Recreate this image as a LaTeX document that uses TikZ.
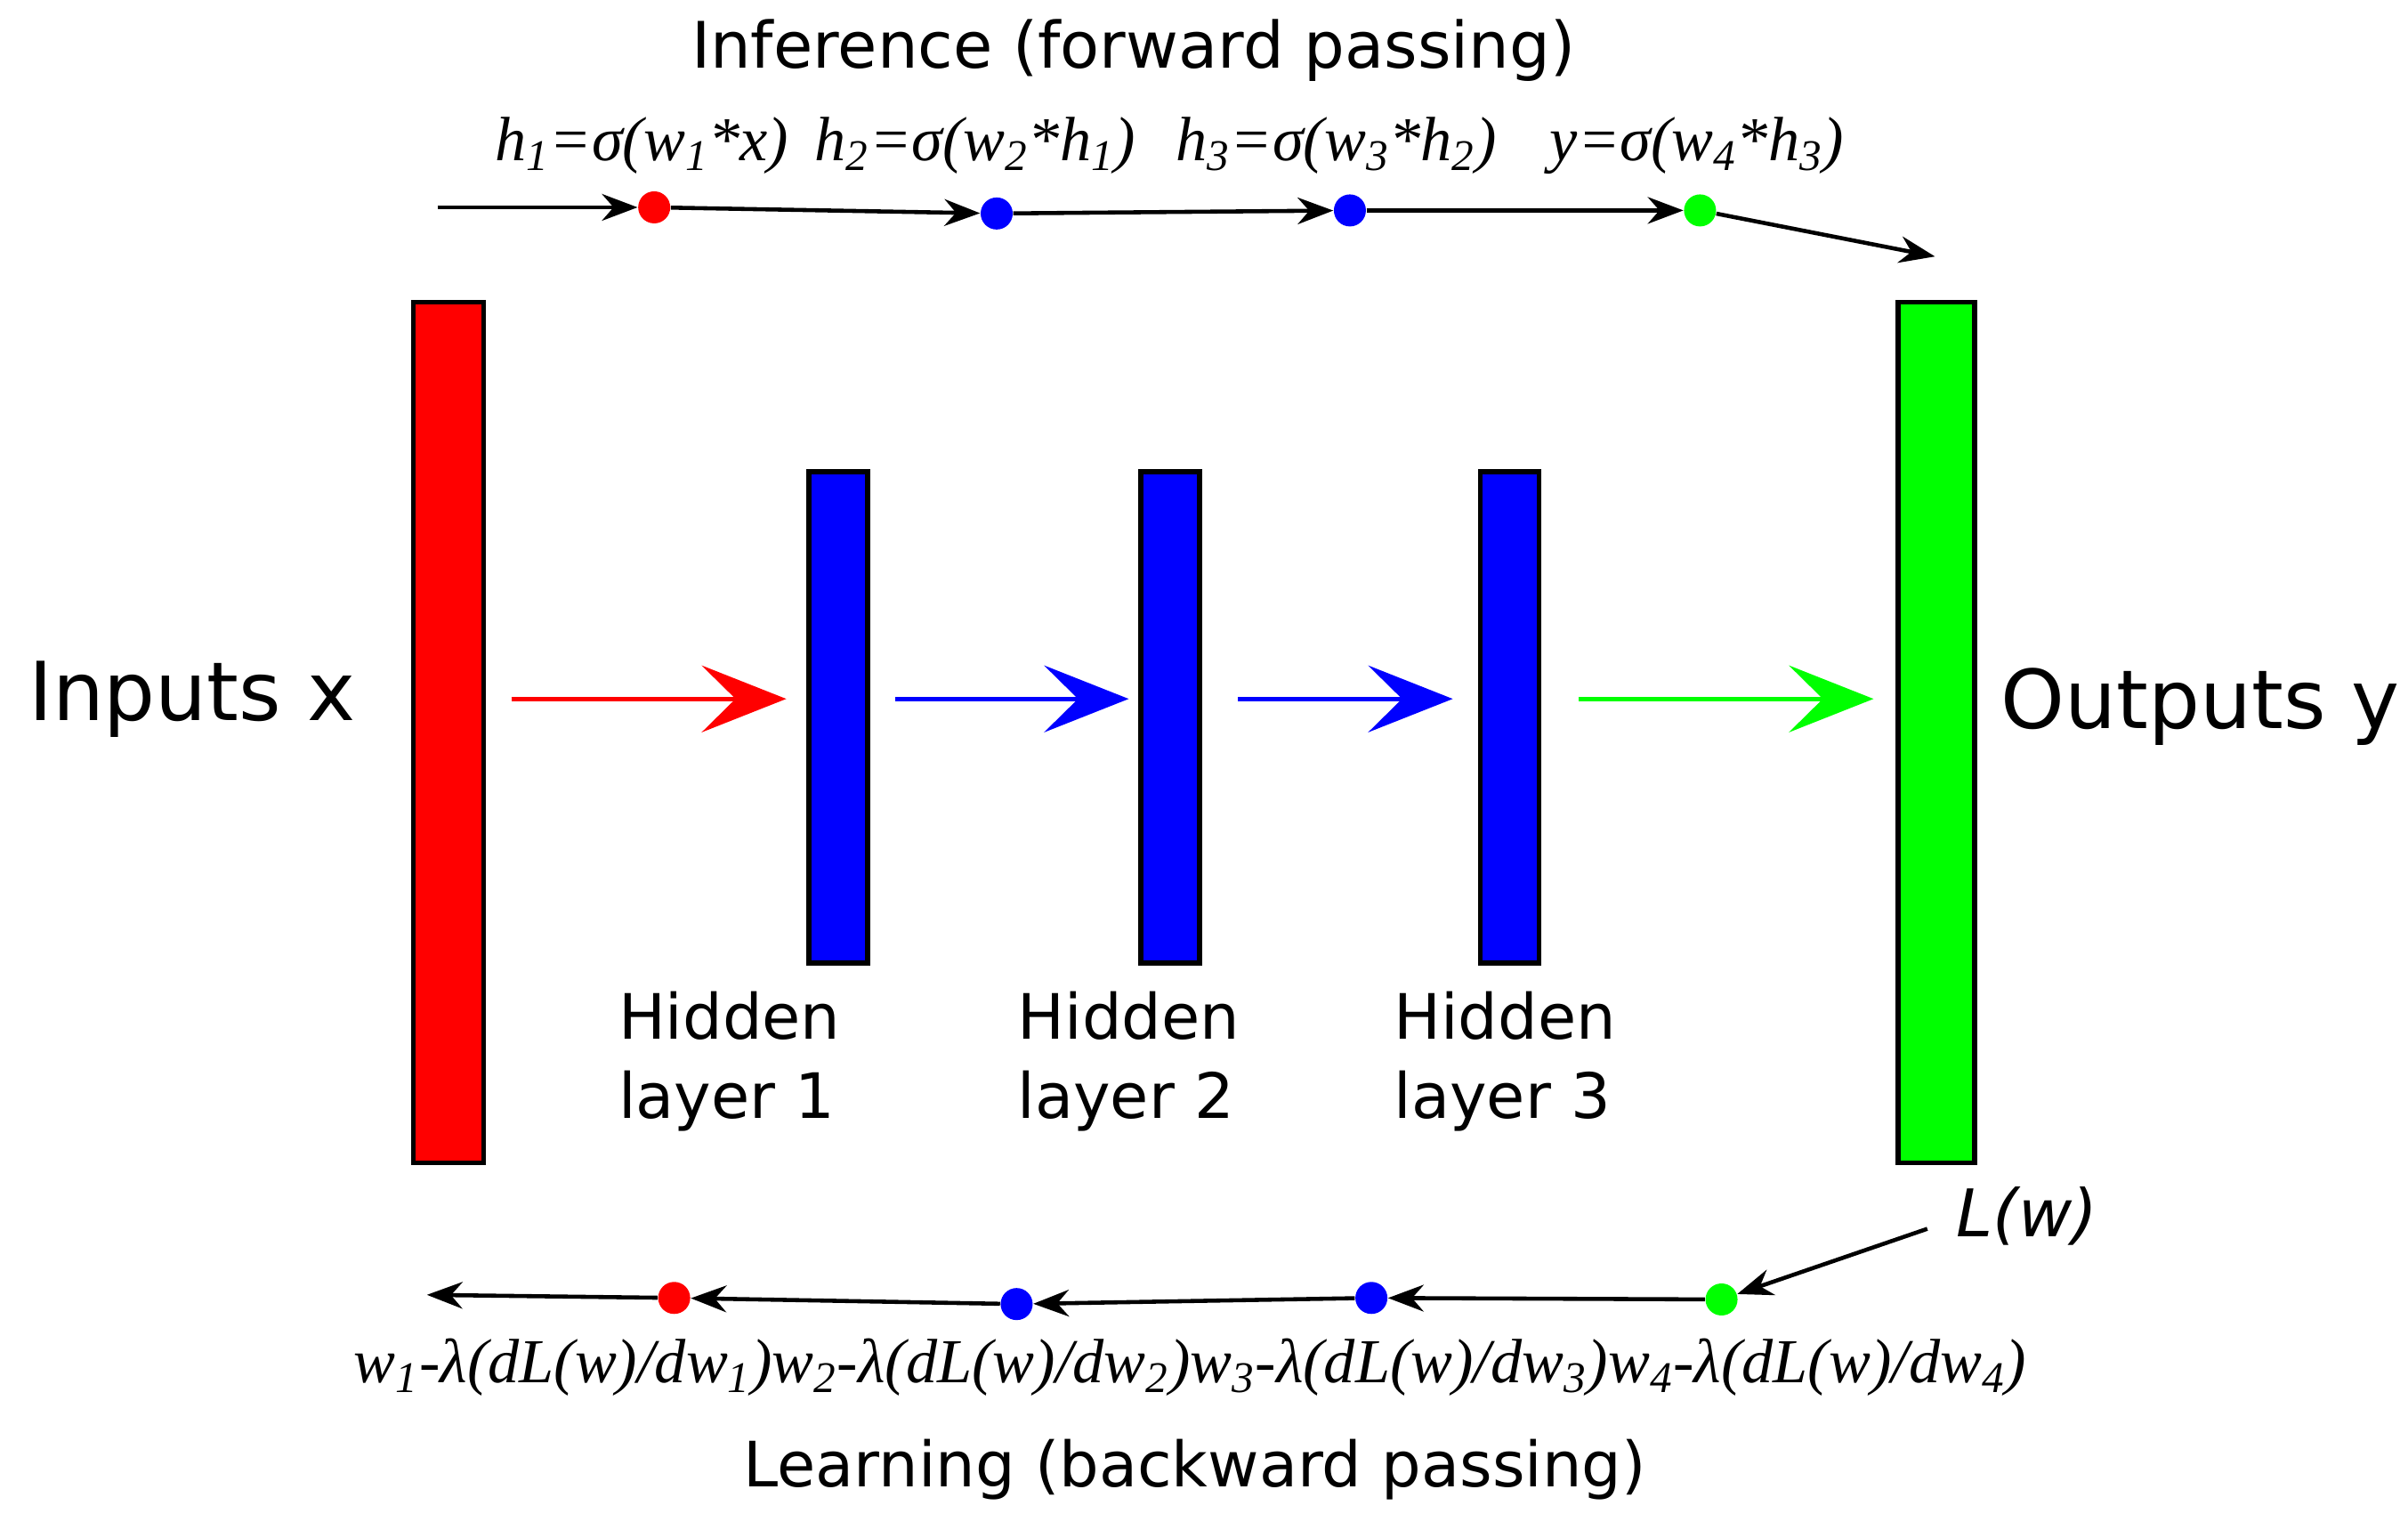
\documentclass[tikz,border=0pt]{standalone}
\usepackage{fontspec}
\setmainfont{DejaVu Sans}
\newfontfamily\formfont{Liberation Serif}
\usetikzlibrary{arrows.meta}
\begin{document}
\begin{tikzpicture}[x=0.01726cm,y=-0.01726cm,
	bar/.style={draw=black,line width=1.6pt,inner sep=0pt},
	dot/.style={circle,inner sep=0pt,minimum size=0.36cm},
	flow/.style={-{Stealth[length=0.4cm,width=0.3cm]},line width=1.3pt},
	big/.style={-{Stealth[length=0.95cm,width=0.75cm,inset=0.38cm]},line width=1.5pt},
	form/.style={font=\formfont\itshape\fontsize{20}{22}\selectfont}]
	\useasboundingbox (0,0) rectangle (1568,1001);

	% layers
	\node[bar,fill=red,minimum width=0.79cm,minimum height=9.67cm] (in) at (292,477) {};
	\node[bar,fill=green,minimum width=0.86cm,minimum height=9.67cm] (out) at (1261,477) {};
	\foreach \n/\xx in {1/546,2/762,3/983}
		\node[bar,fill=blue,minimum width=0.66cm,minimum height=5.52cm] (hl\n) at (\xx,467) {};

	\node[font=\fontsize{26}{30}\selectfont] (inx) at (125,455) {Inputs x};
	\node[font=\fontsize{26}{30}\selectfont] (outy) at (1433,460) {Outputs y};
	\foreach \n/\xx in {1/475,2/735,3/980}
		\node[font=\fontsize{20}{25.5}\selectfont,align=left] (lab\n) at (\xx,691) {Hidden\\layer \n};

	% layer arrows
	\coordinate (a0) at (333,455); \coordinate (a1) at (512,455);
	\coordinate (b0) at (583,455); \coordinate (b1) at (735,455);
	\coordinate (c0) at (806,455); \coordinate (c1) at (946,455);
	\coordinate (d0) at (1028,455); \coordinate (d1) at (1220,455);
	\draw[big,red] (a0) -- (a1);
	\draw[big,blue] (b0) -- (b1);
	\draw[big,blue] (c0) -- (c1);
	\draw[big,green] (d0) -- (d1);

	% forward pass
	\node[font=\fontsize{20.5}{24}\selectfont] (inf) at (738,33) {Inference (forward passing)};
	\coordinate (fs) at (285,135);
	\node[dot,fill=red] (f1) at (426,135) {};
	\node[dot,fill=blue] (f2) at (649,139) {};
	\node[dot,fill=blue] (f3) at (879,137) {};
	\node[dot,fill=green] (f4) at (1107,137) {};
	\coordinate (fe) at (1260,167);
	\draw[flow] (fs) -- (f1);
	\draw[flow] (f1) -- (f2);
	\draw[flow] (f2) -- (f3);
	\draw[flow] (f3) -- (f4);
	\draw[flow] (f4) -- (fe);
	\node[form] (e1) at (418,95) {h\textsubscript{1}=σ(w\textsubscript{1}*x)};
	\node[form] (e2) at (635,95) {h\textsubscript{2}=σ(w\textsubscript{2}*h\textsubscript{1})};
	\node[form] (e3) at (870,95) {h\textsubscript{3}=σ(w\textsubscript{3}*h\textsubscript{2})};
	\node[form] (e4) at (1105,95) {y=σ(w\textsubscript{4}*h\textsubscript{3})};

	% backward pass
	\node[font=\itshape\fontsize{21}{24}\selectfont] (loss) at (1320,792) {L(w)};
	\coordinate (ls) at (1255,800);
	\node[dot,fill=green] (g4) at (1121,846) {};
	\node[dot,fill=blue] (g3) at (893,845) {};
	\node[dot,fill=blue] (g2) at (662,849) {};
	\node[dot,fill=red] (g1) at (439,845) {};
	\coordinate (ge) at (278,843);
	\draw[flow] (ls) -- (g4);
	\draw[flow] (g4) -- (g3);
	\draw[flow] (g3) -- (g2);
	\draw[flow] (g2) -- (g1);
	\draw[flow] (g1) -- (ge);
	\node[form] (upd) at (775,890) {w\textsubscript{1}-λ(dL(w)/dw\textsubscript{1})w\textsubscript{2}-λ(dL(w)/dw\textsubscript{2})w\textsubscript{3}-λ(dL(w)/dw\textsubscript{3})w\textsubscript{4}-λ(dL(w)/dw\textsubscript{4})};
	\node[font=\fontsize{20}{24}\selectfont] (lrn) at (778,957) {Learning (backward passing)};
\end{tikzpicture}
\end{document}
